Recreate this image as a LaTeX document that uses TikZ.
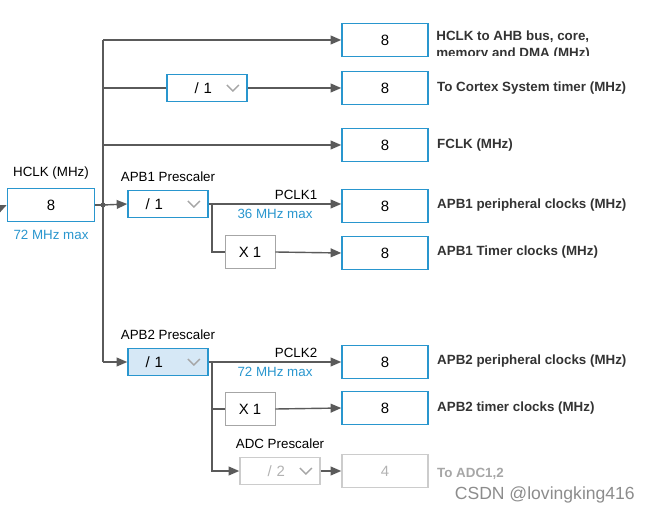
\documentclass[tikz,border=0pt]{standalone}
\usepackage{fontspec}
\setmainfont{Liberation Sans}
\usetikzlibrary{positioning,arrows.meta}
\definecolor{mxblue}{RGB}{41,150,206}
\definecolor{mxline}{RGB}{90,90,90}
\definecolor{mxfill}{RGB}{214,232,246}
\begin{document}
\begin{tikzpicture}[x=0.02cm,y=-0.02cm,
font=\fontsize{7.6}{9}\selectfont,
val/.style={draw=mxblue,line width=0.9pt,minimum width=1.72cm,minimum height=0.66cm,inner sep=0pt,font=\fontsize{8.5}{10}\selectfont},
drop/.style={draw=mxblue,line width=0.9pt,minimum width=1.6cm,minimum height=0.54cm,inner sep=0pt,text width=1.3cm,align=left,font=\fontsize{8.5}{10}\selectfont},
mult/.style={draw=gray!70,minimum width=1.0cm,minimum height=0.66cm,inner sep=0pt,font=\fontsize{8.5}{10}\selectfont},
outlbl/.style={anchor=west,font=\fontsize{7.6}{9}\selectfont\bfseries,text=black!80},
note/.style={text=mxblue},
wire/.style={mxline,line width=0.8pt},
arr/.style={wire,-{Triangle[length=6pt,width=5pt]}}]
\useasboundingbox (0,0) rectangle (655,516);
% input
\node (hclk) [val,minimum width=1.74cm] at (51,205) {8};
\node [above=1pt of hclk] {HCLK (MHz)};
\node [note,below=1pt of hclk] {72 MHz max};
\coordinate (in) at (0,208);
\draw [arr] (in) -- (hclk.west);
\coordinate (dot) at (103,205);
\fill [mxline] (dot) circle (2.5);
\draw [wire] (hclk.east) -- (dot);
% outputs
\node (ahb)  [val] at (385,40)  {8};
\node (cort) [val] at (385,88)  {8};
\node (fclk) [val] at (385,145) {8};
\node (apb1) [val] at (385,206) {8};
\node (tim1) [val] at (385,253) {8};
\node (apb2) [val] at (385,362) {8};
\node (tim2) [val] at (385,408) {8};
\node (adc)  [val,draw=gray!40,text=gray!60] at (385,471) {4};
\begin{scope}
\clip (430,20) rectangle (655,56);
\node [outlbl,anchor=north west,align=left,inner sep=0pt] at (436,30) {HCLK to AHB bus, core,\\[1pt]memory and DMA (MHz)};
\end{scope}
\node [outlbl] at (431,88)  {To Cortex System timer (MHz)};
\node [outlbl] at (431,145) {FCLK (MHz)};
\node [outlbl] at (431,205) {APB1 peripheral clocks (MHz)};
\node [outlbl] at (431,252) {APB1 Timer clocks (MHz)};
\node [outlbl] at (431,361) {APB2 peripheral clocks (MHz)};
\node [outlbl] at (431,408) {APB2 timer clocks (MHz)};
\node [outlbl,text=gray!70] at (431,474) {To ADC1,2};
% prescalers
\node (sysdiv) [drop] at (207,88) {\hspace{4mm}/ 1};
\node (pre1)   [drop] at (168,204) {\hspace{2mm}/ 1};
\node (pre2)   [drop,fill=mxfill] at (168,362) {\hspace{2mm}/ 1};
\node (adcdiv) [drop,draw=gray!40,text=gray!60] at (280,471) {\hspace{4mm}/ 2};
\foreach \n in {sysdiv,pre1,pre2,adcdiv}
  \draw [gray!70,line width=0.8pt] (\n.east) ++(-21,-3) -- ++(6,6) -- ++(6,-6);
\node [above=1pt of pre1] {APB1 Prescaler};
\node [above=1pt of pre2] {APB2 Prescaler};
\node [above=1pt of adcdiv] {ADC Prescaler};
\node (mul1) [mult] at (250,252) {X 1};
\node (mul2) [mult] at (250,409) {X 1};
% main bus
\coordinate (top) at (103,40);
\coordinate (bot) at (103,362);
\draw [wire] (top) -- (bot);
\draw [arr] (top) -- (ahb.west);
\draw [wire] (dot |- sysdiv) -- (sysdiv.west);
\draw [arr] (sysdiv.east) -- (cort.west);
\draw [arr] (dot |- fclk) -- (fclk.west);
\draw [arr] (dot) -- (pre1.west);
\draw [arr] (bot) -- (pre2.west);
% APB1
\draw [arr] (pre1.east) -- node [above=-1pt,xshift=12pt,text=black] {PCLK1} node [note,below=-1pt] {36 MHz max} (pre1.east -| apb1.west);
\coordinate (br1) at (212,204);
\draw [wire] (br1) |- (mul1.west);
\draw [arr] (mul1.east) -- (tim1.west);
% APB2
\draw [arr] (pre2.east) -- node [above=-1pt,xshift=12pt,text=black] {PCLK2} node [note,below=-1pt] {72 MHz max} (apb2.west);
\coordinate (br2) at (212,362);
\draw [wire] (br2) |- (mul2.west);
\draw [arr] (mul2.east) -- (tim2.west);
\draw [arr] (br2) |- (adcdiv.west);
\draw [arr] (adcdiv.east) -- (adc.west);
\node [anchor=east,text=gray!90,font=\fontsize{10}{12}\selectfont] at (641,495) {CSDN @lovingking416};
\end{tikzpicture}
\end{document}
